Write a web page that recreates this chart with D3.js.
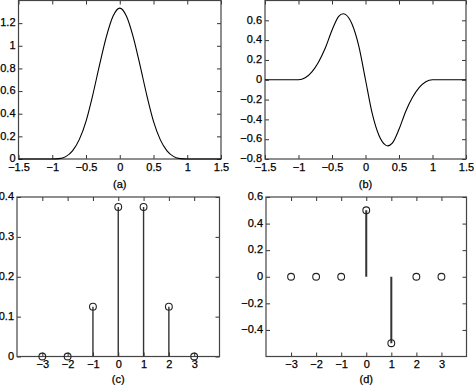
<!DOCTYPE html>
<html lang="en">
<head>
<meta charset="utf-8">
<title>scaling function and wavelet</title>
<script src="https://d3js.org/d3.v7.min.js"></script>
<style>
  body{margin:0;background:#fff;}
  svg{display:block;}
  text{font-family:"Liberation Sans",Arial,Helvetica,sans-serif;font-size:11px;fill:#000;stroke:#000;stroke-width:0.25px;}
</style>
</head>
<body>
<div id="chart"></div>
<script>
var phiX = [-1.5,-1,-0.9,-0.8,-0.7,-0.6,-0.5,-0.4,-0.3,-0.2,-0.1,0,0.1,0.2,0.3,0.4,0.5,0.6,0.7,0.8,0.9,1,1.5]
var phiY = [0,0,0.003,0.021,0.072,0.171,0.333,0.565,0.829,1.077,1.261,1.333,1.261,1.077,0.829,0.565,0.333,0.171,0.072,0.021,0.003,0,0]

var psiX = [-1.5,-1,-0.9,-0.8,-0.7,-0.6,-0.5,-0.4,-0.333,-0.3,-0.2,-0.1,0,0.1,0.2,0.3,0.333,0.4,0.5,0.6,0.7,0.8,0.9,1,1.5]
var psiY = [0,0,0.02,0.08,0.18,0.32,0.5,0.64,0.667,0.66,0.56,0.34,0,-0.34,-0.56,-0.66,-0.667,-0.64,-0.5,-0.32,-0.18,-0.08,-0.02,0,0]

var stemN = [-3,-2,-1,0,1,2,3]
var hVals = [0,0,0.125,0.375,0.375,0.125,0]
var gVals = [0,0,0,0.5,-0.5,0,0]

var xTicksTop = [-1.5,-1,-0.5,0,0.5,1,1.5]
var yTicksA = [0,0.2,0.4,0.6,0.8,1,1.2]
var yTicksB = [-0.8,-0.6,-0.4,-0.2,0,0.2,0.4,0.6]
var xTicksBot = [-3,-2,-1,0,1,2,3]
var yTicksC = [0,0.1,0.2,0.3,0.4]
var yTicksD = [-0.4,-0.2,0,0.2,0.4,0.6]

var W = 474, H = 385
var svg = d3.select("#chart").append("svg").attr("width",W).attr("height",H)

function fmt(v){
    var s = d3.format("")(+v.toFixed(2))
    return s.replace("-","\u2212")
}

// draws the box, the inside ticks and the labels of one subplot
function panel(box, xdom, ydom, xt, yt, name, nameGap){
    var x = d3.scaleLinear().domain(xdom).range([box.l,box.r])
    var y = d3.scaleLinear().domain(ydom).range([box.b,box.t])
    var g = svg.append("g")

    g.append("g").attr("transform","translate(0,"+box.b+")")
        .call(d3.axisBottom(x).tickValues(xt).tickSize(-4).tickPadding(4).tickFormat(fmt))
    g.append("g").attr("transform","translate(0,"+box.t+")")
        .call(d3.axisTop(x).tickValues(xt).tickSize(-4).tickFormat(""))
    g.append("g").attr("class","yax").attr("transform","translate("+box.l+",0)")
        .call(d3.axisLeft(y).tickValues(yt).tickSize(-4).tickPadding(3).tickFormat(fmt))
    g.append("g").attr("transform","translate("+box.r+",0)")
        .call(d3.axisRight(y).tickValues(yt).tickSize(-4).tickFormat(""))

    g.selectAll(".domain").remove()
    g.selectAll(".tick line").attr("stroke","#333")
    g.selectAll(".tick text").attr("fill",null)
    g.selectAll(".yax .tick text").attr("dy","0.25em")

    g.append("rect").attr("x",box.l).attr("y",box.t)
        .attr("width",box.r-box.l).attr("height",box.b-box.t)
        .attr("fill","none").attr("stroke","#444").attr("stroke-width",1.2)

    g.append("text").attr("x",(box.l+box.r)/2).attr("y",box.b+nameGap)
        .attr("text-anchor","middle").text(name)
    return {x:x,y:y,g:g}
}

function curve(p, xs, ys){
    var pts = xs.map(function(d,i){ return [d,ys[i]] })
    var line = d3.line().x(function(d){ return p.x(d[0]) }).y(function(d){ return p.y(d[1]) })
        .curve(d3.curveMonotoneX)
    p.g.append("path").attr("d",line(pts)).attr("fill","none")
        .attr("stroke","#000").attr("stroke-width",1.1)
}

function stems(p, ns, vals, w){
    p.g.selectAll(".stem").data(ns).enter().append("line")
        .attr("x1",function(d){ return p.x(d) }).attr("x2",function(d){ return p.x(d) })
        .attr("y1",p.y(0)).attr("y2",function(d,i){ return p.y(vals[i]) })
        .attr("stroke","#333").attr("stroke-width",w)
    p.g.selectAll(".mark").data(ns).enter().append("circle")
        .attr("cx",function(d){ return p.x(d) }).attr("cy",function(d,i){ return p.y(vals[i]) })
        .attr("r",3.4).attr("fill","none").attr("stroke","#222").attr("stroke-width",1.1)
}

var pa = panel({l:18.5,r:221,t:0.5,b:159},[-1.5,1.5],[0,1.4],xTicksTop,yTicksA,"(a)",28.5)
curve(pa, phiX, phiY)

var pb = panel({l:265,r:466,t:0.5,b:159},[-1.5,1.5],[-0.8,0.8],xTicksTop,yTicksB,"(b)",28.5)
curve(pb, psiX, psiY)

var pc = panel({l:17,r:219.5,t:197,b:356.5},[-4,4],[0,0.4],xTicksBot,yTicksC,"(c)",26.5)
stems(pc, stemN, hVals, 1.4)

var pd = panel({l:266,r:466.5,t:197,b:356.5},[-4,4],[-0.6,0.6],xTicksBot,yTicksD,"(d)",26.5)
stems(pd, stemN, gVals, 2)
</script>
</body>
</html>
